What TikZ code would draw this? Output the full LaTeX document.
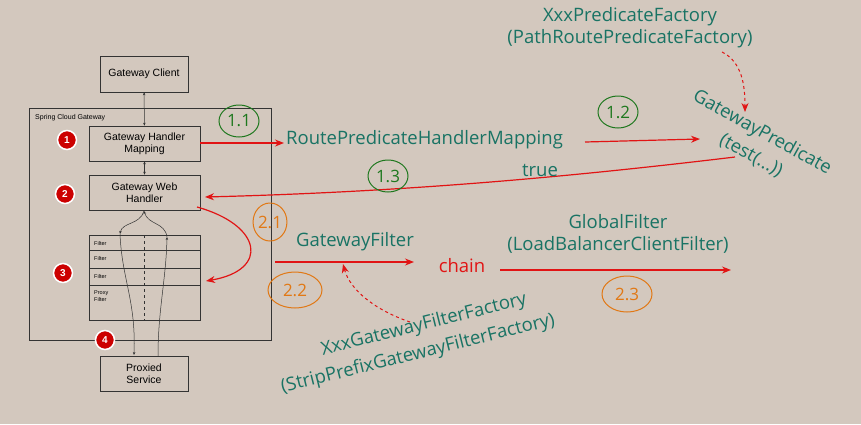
\documentclass[tikz,border=0pt]{standalone}
\usepackage{fontspec}
\setmainfont{Open Sans}
\newfontfamily\boxfont{Liberation Sans}
\usetikzlibrary{arrows.meta,shapes.geometric}
\definecolor{bg}{RGB}{211,200,190}
\definecolor{teal}{RGB}{25,115,100}
\definecolor{grn}{RGB}{30,120,30}
\definecolor{org}{RGB}{225,120,20}
\definecolor{rd}{RGB}{225,20,20}
\begin{document}
\begin{tikzpicture}[x=1pt,y=-1pt,
  gbox/.style={draw=black!80,line width=0.6pt,inner sep=0pt,font=\boxfont\fontsize{10.5}{12}\selectfont,align=center},
  num/.style={circle,fill=red!80!black,draw=white,line width=1.5pt,minimum size=19pt,inner sep=0pt,text=white,font=\boxfont\bfseries\fontsize{10}{10}\selectfont},
  lab/.style={text=teal,font=\fontsize{18.5}{22}\selectfont,align=center,inner sep=1pt},
  gell/.style={draw=grn,ellipse,line width=1pt,text=grn,font=\fontsize{17}{17}\selectfont,minimum width=40pt,minimum height=32pt,inner sep=0pt},
  oell/.style={draw=org,ellipse,line width=1pt,text=org,font=\fontsize{17}{17}\selectfont,minimum width=50pt,minimum height=36pt,inner sep=0pt},
  rarr/.style={draw=rd,line width=1.2pt,-{Stealth[length=9pt,width=7pt]}},
  thin/.style={draw=black!80,line width=0.5pt,-{Stealth[length=3pt,width=2.5pt]}}]
\fill[bg] (0,0) rectangle (861,424);
\useasboundingbox (0,0) rectangle (861,424);
% left diagram
\node[gbox,minimum width=88pt,minimum height=36pt] (client) at (144,74) {Gateway Client};
\draw[black!80,line width=0.6pt] (29,108) rectangle (271,340);
\node[anchor=west,inner sep=0pt,font=\boxfont\fontsize{7}{8}\selectfont] (scg) at (35,118) {Spring Cloud Gateway};
\node[gbox,minimum width=111pt,minimum height=35pt] (ghm) at (144.5,143.5) {Gateway Handler\\Mapping};
\node[gbox,minimum width=111pt,minimum height=35pt] (gwh) at (144.5,192.5) {Gateway Web\\Handler};
\node[gbox,minimum width=111pt,minimum height=85pt] (flt) at (144.5,277.5) {};
\draw[black!80,line width=0.5pt] (89,250)--(200,250) (89,268)--(200,268) (89,285)--(200,285);
\draw[black!80,line width=0.5pt,dashed] (144,235)--(144,320);
\begin{scope}[font=\boxfont\fontsize{5.5}{6.5}\selectfont,inner sep=0pt,anchor=west]
\node (f1) at (94,244) {Filter};
\node (f2) at (94,259) {Filter};
\node (f3) at (94,277) {Filter};
\node[align=left,anchor=north west] (f4) at (94,291) {Proxy\\Filter};
\end{scope}
\node[gbox,minimum width=88pt,minimum height=35pt] (ps) at (144,373.5) {Proxied\\Service};
\node[num] (n1) at (67,140) {1};
\node[num] (n2) at (65,194) {2};
\node[num] (n3) at (63,273) {3};
\node[num] (n4) at (105,340) {4};
\draw[thin,{Stealth[length=3pt,width=2.5pt]}-{Stealth[length=3pt,width=2.5pt]}] (client)--(ghm);
\draw[thin,{Stealth[length=3pt,width=2.5pt]}-{Stealth[length=3pt,width=2.5pt]}] (ghm)--(gwh);
\coordinate (gb) at (144,211);
\draw[thin] (gb) .. controls (140,225) and (122,222) .. (120,234);
\draw[thin] (120,234) .. controls (122,280) and (136,300) .. (134,355);
\draw[thin] (158,356) .. controls (158,310) and (166,280) .. (167,237);
\draw[thin] (167,237) .. controls (165,222) and (148,225) .. (gb);
% right
\draw[rarr] (200,143) -- (284,143);
\node[lab,anchor=west] (rphm) at (285,140) {RoutePredicateHandlerMapping};
\node[gell] (e11) at (239,121) {1.1};
\draw[rarr] (585,142) -- (700,139);
\node[gell] (e12) at (618,112) {1.2};
\node[lab] (xpf) at (630,28) {XxxPredicateFactory\\(PathRoutePredicateFactory)};
\node[lab,rotate=-29] (gp) at (762,133) {GatewayPredicate};
\node[lab,rotate=-29] (tst) at (751,156) {(test(...))};
\draw[rarr,dashed,line width=1pt] (722,52) .. controls (742,62) and (745,85) .. (745,112);
\draw[rarr] (735,157) .. controls (560,178) and (400,192) .. (205,197);
\node[lab] (tr) at (540,170) {true};
\node[gell] (e13) at (388,176) {1.3};
\draw[rarr] (197,207) .. controls (262,225) and (270,270) .. (206,281);
\node[oell,minimum width=32pt,minimum height=38pt] (e21) at (270,222) {2.1};
\node[lab] (gf) at (355,242) {GatewayFilter};
\draw[rarr] (275,262) -- (414,262);
\node[text=rd,font=\fontsize{18.5}{22}\selectfont] (chain) at (462,266) {chain};
\draw[rarr] (500,270) -- (731,270);
\node[lab] (glf) at (618,234) {GlobalFilter\\(LoadBalancerClientFilter)};
\node[oell] (e23) at (627,294) {2.3};
\node[oell,minimum width=54pt] (e22) at (295,290) {2.2};
\draw[rarr,dashed,line width=1pt] (410,322) .. controls (375,310) and (350,290) .. (343,264);
\node[lab,rotate=14] (xgf) at (424,325) {XxxGatewayFilterFactory};
\node[lab,rotate=14] (spf) at (418,354) {(StripPrefixGatewayFilterFactory)};
\end{tikzpicture}
\end{document}
